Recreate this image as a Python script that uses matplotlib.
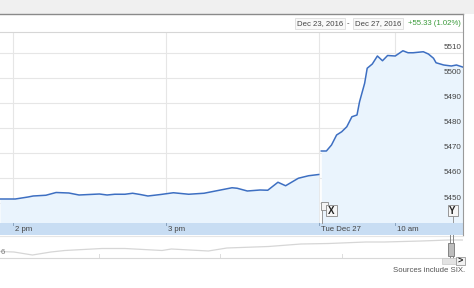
import matplotlib
matplotlib.use("Agg")
import matplotlib.pyplot as plt
from matplotlib.patches import Rectangle
from matplotlib.lines import Line2D

plt.rcParams['font.family'] = ['Liberation Sans', 'DejaVu Sans']

# ---------------- data ----------------
d23_times = ["13:55", "14:01", "14:06", "14:08", "14:13", "14:17", "14:22", "14:26", "14:30",
             "14:34", "14:37", "14:40", "14:44", "14:47", "14:50", "14:53", "14:58", "15:03",
             "15:09", "15:15", "15:18", "15:22", "15:26", "15:28", "15:32", "15:37", "15:40",
             "15:44", "15:47", "15:52", "15:56", "16:00"]
d23_vals = [5451.6, 5451.6, 5452.4, 5452.8, 5453.1, 5454.2, 5454.0, 5453.2, 5453.4,
            5453.6, 5453.2, 5453.5, 5453.5, 5453.9, 5453.4, 5452.8, 5453.4, 5454.1,
            5453.5, 5453.9, 5454.5, 5455.3, 5456.1, 5455.9, 5454.8, 5455.2, 5455.1,
            5458.3, 5456.9, 5459.9, 5460.9, 5461.4]
d27_times = ["09:31", "09:33", "09:35", "09:37", "09:39", "09:41", "09:43", "09:45", "09:46",
             "09:48", "09:49", "09:51", "09:53", "09:55", "09:57", "10:00", "10:03", "10:05",
             "10:07", "10:11", "10:13", "10:15", "10:16", "10:19", "10:22", "10:24", "10:27"]
d27_vals = [5470.8, 5470.8, 5473.2, 5477.2, 5478.5, 5480.5, 5484.5, 5485.2, 5490.5,
            5497.9, 5503.9, 5505.6, 5508.8, 5506.9, 5509.0, 5508.8, 5510.9, 5510.1,
            5510.1, 5510.5, 5509.6, 5507.9, 5506.1, 5505.2, 5504.8, 5505.2, 5504.2]

tick_labels = ["2 pm", "3 pm", "Tue Dec 27", "10 am"]
tick_days = ["d23", "d23", "d27", "d27"]
tick_times = ["14:00", "15:00", "09:30", "10:00"]

y_ticks = [5450, 5460, 5470, 5480, 5490, 5500, 5510]

# navigator (5-day overview)
nav_t = [0.0, 0.03, 0.07, 0.11, 0.14, 0.22, 0.27, 0.35, 0.37, 0.45, 0.49, 0.58, 0.65,
         0.71, 0.79, 0.83, 0.91, 0.97, 1.0]
nav_vals = [5452.5, 5450, 5435, 5450, 5457.5, 5467.5, 5467.5, 5457.5, 5465, 5455, 5470,
            5477.5, 5490, 5492.5, 5500, 5500, 5505, 5510, 5510]
nav_label = "6"

header_from = "Dec 23, 2016"
header_to = "Dec 27, 2016"
header_change = "+55.33 (1.02%)"
source_note = "Sources include SIX."


def tmin(day, hhmm):
    h, m = map(int, hhmm.split(":"))
    if day == "d23":
        return (h * 60 + m) - (13 * 60 + 55)
    return 125 + (h * 60 + m) - (9 * 60 + 30)


x23 = [tmin("d23", t) for t in d23_times]
x27 = [tmin("d27", t) for t in d27_times]
xt = [tmin(d, t) for d, t in zip(tick_days, tick_times)]

W, H = 474, 288
fig = plt.figure(figsize=(W / 100, H / 100), dpi=100)


def fx(x):
    return x / W


def fy(y):
    return 1 - y / H


FS = 5.6
TXT = '#444444'
LINE = '#3d6fc2'
FILL = '#eaf4fd'
GRID = '#e6e6e6'

# top gray strip
fig.patches.append(Rectangle((0, fy(14)), 1, 14 / H, transform=fig.transFigure,
                             facecolor='#f0f0f0', edgecolor='none', zorder=0))
fig.add_artist(Line2D([0, fx(463)], [fy(14), fy(14)], color='#8a8a8a', lw=1.0))
fig.add_artist(Line2D([fx(463), fx(463)], [fy(14), fy(235)], color='#9a9a9a', lw=0.8))

# main axes
PX = 2.55
ax = fig.add_axes([0, fy(223), fx(463), (223 - 32) / H])
ax.set_xlim(0, 463 / PX)
ax.set_ylim(5442.0, 5518.4)
for s in ax.spines.values():
    s.set_visible(False)
ax.spines['top'].set_visible(True)
ax.spines['top'].set_color('#d6d6d6')
ax.spines['top'].set_linewidth(0.8)
ax.set_xticks([])
ax.set_yticks([])

for v in y_ticks:
    ax.axhline(v, color=GRID, lw=0.8, zorder=1)
    ax.text(0.997, v + 0.6, str(v), transform=ax.get_yaxis_transform(), ha='right',
            va='bottom', fontsize=FS + 0.2, color=TXT, zorder=5)
for x in xt:
    ax.axvline(x, color=GRID, lw=0.8, zorder=1)

ax.fill_between(x23, d23_vals, 5442.0, color=FILL, zorder=2, lw=0)
ax.fill_between(x27, d27_vals, 5442.0, color=FILL, zorder=2, lw=0)
ax.plot(x23, d23_vals, color=LINE, lw=1.1, zorder=3)
ax.plot(x27, d27_vals, color=LINE, lw=1.1, zorder=3)

# x-axis band
bx = fig.add_axes([0, fy(235), fx(463), 12 / H])
bx.set_xlim(0, 463 / PX)
bx.set_ylim(0, 1)
bx.set_facecolor('#c8ddf3')
for s in bx.spines.values():
    s.set_visible(False)
bx.set_xticks([])
bx.set_yticks([])
for x, lab in zip(xt, tick_labels):
    bx.plot([x, x], [1.0, 0.82], color='#8aa4c0', lw=0.7)
    bx.text(x + 0.8, 0.45, lab, ha='left', va='center', fontsize=FS, color=TXT)

# navigator
nx = fig.add_axes([0, fy(258), fx(463), (258 - 236) / H])
nx.set_xlim(0, 1)
nx.set_ylim(5420, 5530)
for s in nx.spines.values():
    s.set_visible(False)
nx.spines['bottom'].set_visible(True)
nx.spines['bottom'].set_color('#d8d8d8')
nx.spines['top'].set_visible(True)
nx.spines['top'].set_color('#e6e6e6')
nx.set_xticks([])
nx.set_yticks([])
nx.plot(nav_t, nav_vals, color='#d6d6d6', lw=0.9)
for xv in [99 / 463, 220 / 463, 342 / 463]:
    nx.plot([xv, xv], [5420, 5440], color='#dddddd', lw=0.7)
fig.text(fx(0.5), fy(252), nav_label, ha='left', va='center', fontsize=FS, color='#777777')

# navigator handle + scrollbar
fig.add_artist(Line2D([fx(449.5), fx(449.5)], [fy(235), fy(258)], color='#888888', lw=0.7))
fig.add_artist(Line2D([fx(452.5), fx(452.5)], [fy(235), fy(258)], color='#888888', lw=0.7))
fig.patches.append(Rectangle((fx(448), fy(256)), 6 / W, 13 / H, transform=fig.transFigure,
                             facecolor='#bdbdbd', edgecolor='#777777', lw=0.6, zorder=5))
fig.patches.append(Rectangle((fx(442), fy(264)), 14 / W, 6 / H, transform=fig.transFigure,
                             facecolor='#e3e3e3', edgecolor='#c8c8c8', lw=0.5, zorder=5))
fig.patches.append(Rectangle((fx(456), fy(265)), 9 / W, 8 / H, transform=fig.transFigure,
                             facecolor='#f2f2f2', edgecolor='#999999', lw=0.6, zorder=5))
fig.text(fx(460.5), fy(261), ">", ha='center', va='center', fontsize=6.5, weight='bold',
         color='#222222', zorder=6)

# header
box = dict(boxstyle='square,pad=0.25', facecolor='#f9f9f9', edgecolor='#dddddd', lw=0.6)
fig.text(fx(320), fy(23.5), header_from, ha='center', va='center', fontsize=FS, color=TXT, bbox=box)
fig.text(fx(348), fy(23.5), "-", ha='center', va='center', fontsize=FS, color=TXT)
fig.text(fx(378), fy(23.5), header_to, ha='center', va='center', fontsize=FS, color=TXT, bbox=box)
fig.text(fx(434), fy(23.5), header_change, ha='center', va='center', fontsize=FS, color='#3a9a3a')

# flags
fig.add_artist(Line2D([fx(321.5), fx(321.5)], [fy(202), fy(223)], color='#999999', lw=0.7))
fig.patches.append(Rectangle((fx(321), fy(210)), 7 / W, 8 / H, transform=fig.transFigure,
                             facecolor='#f4f4f4', edgecolor='#888888', lw=0.6, zorder=5))
fig.patches.append(Rectangle((fx(326), fy(216)), 11 / W, 11 / H, transform=fig.transFigure,
                             facecolor='#f6f6f6', edgecolor='#888888', lw=0.6, zorder=6))
fig.text(fx(331.5), fy(210.5), "X", ha='center', va='center', fontsize=7, weight='bold',
         color='#222222', zorder=7)
fig.add_artist(Line2D([fx(452.5), fx(452.5)], [fy(216), fy(222)], color='#999999', lw=0.7))
fig.patches.append(Rectangle((fx(447.5), fy(216)), 10 / W, 11 / H, transform=fig.transFigure,
                             facecolor='#f6f6f6', edgecolor='#888888', lw=0.6, zorder=6))
fig.text(fx(452.5), fy(210.5), "Y", ha='center', va='center', fontsize=7, weight='bold',
         color='#222222', zorder=7)

fig.text(fx(465), fy(270), source_note, ha='right', va='center', fontsize=FS, color='#555555')

fig.savefig("out.png", dpi=100)
